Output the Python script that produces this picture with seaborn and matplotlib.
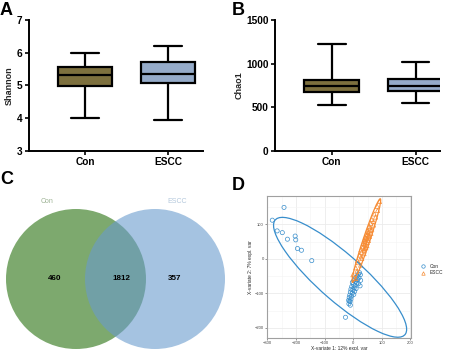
import numpy as np
import pandas as pd
import matplotlib
matplotlib.use("Agg")
import matplotlib.pyplot as plt
from matplotlib.patches import Circle, Ellipse
from matplotlib.lines import Line2D
import seaborn as sns

sns.set_theme(style="ticks")
plt.rcParams['font.family'] = ['Liberation Sans', 'DejaVu Sans']

# ---------------- data ----------------
groups = ["Con", "ESCC"]
# five-number summaries (min, q1, median, q3, max)
shannon_con = [3.99, 4.98, 5.32, 5.55, 6.00]
shannon_escc = [3.93, 5.07, 5.35, 5.70, 6.20]
chao1_con = [523, 679, 748, 809, 1229]
chao1_escc = [550, 683, 748, 820, 1023]

venn_labels = ["Con", "ESCC"]
venn_only_con = 460
venn_shared = 1812
venn_only_escc = 357

con_x = [-242, -283, -266, -248, -230, -203, -201, -195, -181, -145, -27,
         22, 25, 18, 14, 20, 10, 5, 15, 26, 2, 8, -3, 12, 18, 24, 0, 6, -5,
         3, 10, -8, -1, 5, -10, -3, 2, -12, -6, -14, -8, -16, -11, -15, -10, -12]
con_y = [149, 112, 81, 76, 57, 66, 55, 30, 25, -5, -169,
         -40, -46, -44, -50, -55, -54, -58, -60, -62, -63, -66, -68, -70, -72, -78, -74, -78, -80,
         -84, -86, -88, -90, -94, -96, -99, -103, -105, -108, -112, -116, -120, -124, -130, -134, -122]
escc_x = [8, -1, 13, 9, 26, 18, 15, 30, 28, 23, 38, 29, 38, 27, 38, 44, 34, 48, 40, 35,
          49, 41, 53, 41, 50, 42, 57, 53, 48, 62, 53, 50, 62, 65, 59, 56, 71, 62, 71, 65,
          78, 74, 85, 84, 92, 40, 41, 51, 45, 53, 52]
escc_y = [-57, -46, -36, -26, -18, -11, -5, 1, 6, 11, 15, 19, 23, 26, 29, 32, 35, 38, 41, 44,
          47, 50, 53, 56, 59, 62, 65, 68, 71, 74, 77, 80, 83, 86, 90, 94, 98, 103, 108, 114,
          121, 130, 140, 152, 166, 30.5, 45.5, 54.5, 60.5, 66.5, 75.5]

col_con_box = "#877634"
col_escc_box = "#8CAAD2"
mixo_blue = "#388ECC"
mixo_orange = "#F68B33"

fig = plt.figure(figsize=(4.74, 3.5), dpi=100)

def box_panel(rect, con, escc, ylim, yticks, ylabel, xlim):
    ax = fig.add_axes(rect)
    df = pd.DataFrame({"group": ["Con"] * 5 + ["ESCC"] * 5, "value": con + escc})
    sns.boxplot(data=df, x="group", y="value", hue="group", order=groups,
                palette=[col_con_box, col_escc_box], whis=(0, 100), width=0.66,
                linewidth=1.6, linecolor="black", legend=False, ax=ax)
    ax.set_ylim(*ylim)
    ax.set_yticks(yticks)
    ax.set_xlim(*xlim)
    ax.set_xlabel("")
    ax.set_ylabel(ylabel, fontsize=6.5, fontweight="bold", labelpad=2)
    for s in ["top", "right"]:
        ax.spines[s].set_visible(False)
    for s in ["left", "bottom"]:
        ax.spines[s].set_linewidth(1.4)
        ax.spines[s].set_color("black")
    ax.tick_params(axis="both", width=1.2, length=3, labelsize=7.3, pad=1.5, colors="black")
    for t in ax.get_xticklabels() + ax.get_yticklabels():
        t.set_fontweight("bold")
    return ax

axA = box_panel([0.061, 0.569, 0.367, 0.374], shannon_con, shannon_escc,
                (3, 7), [3, 4, 5, 6, 7], "Shannon", (-0.675, 1.42))
axB = box_panel([0.580, 0.569, 0.348, 0.374], chao1_con, chao1_escc,
                (0, 1500), [0, 500, 1000, 1500], "Chao1", (-0.68, 1.29))

# ---------------- Venn (C) ----------------
axC = fig.add_axes([0, 0, 0.5, 180 / 350])
axC.set_xlim(0, 237)
axC.set_ylim(180, 0)
axC.set_aspect("equal")
axC.axis("off")
a = 0.6
axC.add_patch(Circle((76, 109), 70, facecolor="#26710D", alpha=a, edgecolor="none"))
axC.add_patch(Circle((155, 109), 70, facecolor="#699BCD", alpha=a, edgecolor="none"))
axC.text(47, 31, venn_labels[0], fontsize=5, color="#9DB394", ha="center", va="center")
axC.text(177, 31, venn_labels[1], fontsize=5, color="#B4C8DC", ha="center", va="center")
axC.text(55, 108, str(venn_only_con), fontsize=5.8, fontweight="bold", ha="center", va="center", color="black")
axC.text(121, 108, str(venn_shared), fontsize=5.8, fontweight="bold", ha="center", va="center", color="black")
axC.text(175, 108, str(venn_only_escc), fontsize=5.8, fontweight="bold", ha="center", va="center", color="black")

# ---------------- PLS-DA (D) ----------------
axD = fig.add_axes([0.563, 1 - 338 / 350, 0.304, (338 - 196) / 350])
dfD = pd.DataFrame({"x": con_x + escc_x, "y": con_y + escc_y,
                    "group": ["Con"] * len(con_x) + ["ESCC"] * len(escc_x)})
sns.scatterplot(data=dfD, x="x", y="y", hue="group", style="group",
                markers={"Con": "o", "ESCC": "^"}, palette={"Con": mixo_blue, "ESCC": mixo_orange},
                s=9, linewidth=0.5, legend=False, ax=axD)
# hollow markers
for coll in axD.collections:
    fc = coll.get_facecolors()
    coll.set_edgecolors(fc)
    coll.set_facecolors("none")

chi = np.sqrt(5.991)
for xs, ys, c in [(con_x, con_y, mixo_blue), (escc_x, escc_y, mixo_orange)]:
    pts = np.column_stack([xs, ys]).astype(float)
    mu = pts.mean(axis=0)
    cov = np.cov(pts.T)
    vals, vecs = np.linalg.eigh(cov)
    order = vals.argsort()[::-1]
    vals, vecs = vals[order], vecs[:, order]
    ang = np.degrees(np.arctan2(vecs[1, 0], vecs[0, 0]))
    axD.add_patch(Ellipse(mu, 2 * chi * np.sqrt(vals[0]), 2 * chi * np.sqrt(vals[1]),
                          angle=ang, fill=False, edgecolor=c, linewidth=0.9))

axD.set_xlim(-302, 202)
axD.set_ylim(-229, 182)
axD.set_xticks([-300, -200, -100, 0, 100, 200])
axD.set_yticks([-200, -100, 0, 100])
axD.set_xticks([-250, -150, -50, 50, 150], minor=True)
axD.set_yticks([-150, -50, 50, 150], minor=True)
axD.grid(True, which="major", color="#EBEBEB", linewidth=0.6)
axD.grid(True, which="minor", color="#F4F4F4", linewidth=0.4)
axD.set_axisbelow(True)
for s in axD.spines.values():
    s.set_color("#A0A0A0")
    s.set_linewidth(0.8)
axD.tick_params(axis="both", which="major", labelsize=3, length=1.5, width=0.4, pad=0.8, colors="#444444")
axD.tick_params(axis="both", which="minor", length=0)
axD.set_xlabel("X-variate 1: 12% expl. var", fontsize=3.5, labelpad=0.5)
axD.set_ylabel("X-variate 2: 7% expl. var", fontsize=3.5, labelpad=1)

handles = [Line2D([], [], marker="o", linestyle="none", markerfacecolor="none",
                  markeredgecolor=mixo_blue, markersize=2.5, markeredgewidth=0.5),
           Line2D([], [], marker="^", linestyle="none", markerfacecolor="none",
                  markeredgecolor=mixo_orange, markersize=2.5, markeredgewidth=0.5)]
fig.legend(handles, groups, loc="center left", bbox_to_anchor=(0.878, 0.23), frameon=False,
           fontsize=3.5, handletextpad=0.2, labelspacing=0.3, borderpad=0)

# ---------------- panel letters ----------------
for lab, x, y in [("A", 0.0, 0.995), ("B", 0.488, 0.995), ("C", 0.0, 0.51), ("D", 0.488, 0.495)]:
    fig.text(x, y, lab, fontsize=13, fontweight="bold", ha="left", va="top", color="black")

fig.savefig("out.png", dpi=100)
